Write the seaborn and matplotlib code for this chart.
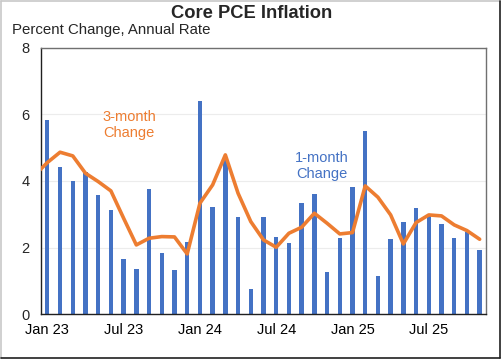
import numpy as np
import pandas as pd
import matplotlib
matplotlib.use("Agg")
import matplotlib.pyplot as plt
import seaborn as sns
from matplotlib.lines import Line2D

# ---- data ----
months = pd.date_range("2023-01-01", periods=35, freq="MS").strftime("%b %y").tolist()
one_month = [5.83, 4.41, 4.00, 4.28, 3.58, 3.13, 1.67, 1.35, 3.76, 1.83, 1.33, 2.18,
             6.40, 3.21, 4.68, 2.93, 0.77, 2.91, 2.31, 2.13, 3.33, 3.60, 1.26, 2.28,
             3.83, 5.50, 1.16, 2.26, 2.77, 3.20, 2.97, 2.72, 2.29, 2.47, 1.93]
# 3-month change, starting with Dec 22 (clipped at the left edge)
three_month = [4.17, 4.55, 4.86, 4.75, 4.23, 3.98, 3.70, 2.88, 2.08, 2.28, 2.33, 2.32, 1.81,
               3.33, 3.88, 4.78, 3.63, 2.78, 2.23, 2.01, 2.43, 2.61, 3.03, 2.73, 2.41,
               2.45, 3.85, 3.51, 2.98, 2.11, 2.75, 2.98, 2.95, 2.68, 2.51, 2.25]
tick_labels = ["Jan 23", "Jul 23", "Jan 24", "Jul 24", "Jan 25", "Jul 25"]

BLUE = "#4472C4"
ORANGE = "#ED7D31"

sns.set_theme(style="white")
plt.rcParams["font.family"] = ["Liberation Sans", "DejaVu Sans"]

fig = plt.figure(figsize=(5.04, 3.60), dpi=100)
ax = fig.add_axes([0.0813, 0.127, 0.883, 0.741])

df = pd.DataFrame({"month": months, "value": one_month})
sns.barplot(data=df, x="month", y="value", color=BLUE, saturation=1,
            width=0.34, linewidth=0, ax=ax, zorder=2)

line_x = np.arange(-1, len(three_month) - 1)
sns.lineplot(x=line_x, y=three_month, color=ORANGE, linewidth=2.6, ax=ax,
             sort=False, zorder=3)

ax.set_xlim(-0.5, len(months) - 0.5)
ax.set_ylim(0, 8)
ax.set_yticks([0, 2, 4, 6, 8])
ax.set_yticklabels(["0", "2", "4", "6", "8"], fontsize=10.5)
ax.yaxis.grid(True, color="#ececec", linewidth=0.8, zorder=0)
ax.set_axisbelow(True)

ax.set_xticks([0, 6, 12, 18, 24, 30])
ax.set_xticklabels(tick_labels, fontsize=10.5)
ax.set_xticks([5.5, 11.5, 17.5, 23.5, 29.5], minor=True)
ax.tick_params(axis="x", which="major", length=0, pad=6, colors="#000000")
ax.tick_params(axis="x", which="minor", length=3, direction="in", color="#404040", width=0.8)
ax.tick_params(axis="y", which="major", length=4, direction="in", color="#404040",
               width=0.8, pad=8)
ax.set_xlabel("")
ax.set_ylabel("")

for s in ["left", "bottom"]:
    ax.spines[s].set_color("#202020")
    ax.spines[s].set_linewidth(1.0)
for s in ["top", "right"]:
    ax.spines[s].set_color("#707070")
    ax.spines[s].set_linewidth(1.0)

ax.text(6.45, 5.68, "3-month\nChange", color=ORANGE, fontsize=10.5,
        ha="center", va="center", linespacing=1.15)
ax.text(21.6, 4.45, "1-month\nChange", color=BLUE, fontsize=10.5,
        ha="center", va="center", linespacing=1.15)

fig.text(0.5, 0.963, "Core PCE Inflation", ha="center", va="center",
         fontsize=13.2, fontweight="bold")
fig.text(0.024, 0.917, "Percent Change, Annual Rate", ha="left", va="center",
         fontsize=10.8)

# chart frame: light top/left, dark right/bottom
xl, xr, yb, yt = 0.002, 0.992, 0.0056, 0.998
fig.lines.append(Line2D([xl, xl], [yb, yt], transform=fig.transFigure, color="#c8c8c8", lw=1.2))
fig.lines.append(Line2D([xl, xr], [yt, yt], transform=fig.transFigure, color="#c8c8c8", lw=1.2))
fig.lines.append(Line2D([xr, xr], [yb, yt], transform=fig.transFigure, color="#202020", lw=1.2))
fig.lines.append(Line2D([xl, xr], [yb, yb], transform=fig.transFigure, color="#202020", lw=1.2))

fig.savefig("out.png", dpi=100)
